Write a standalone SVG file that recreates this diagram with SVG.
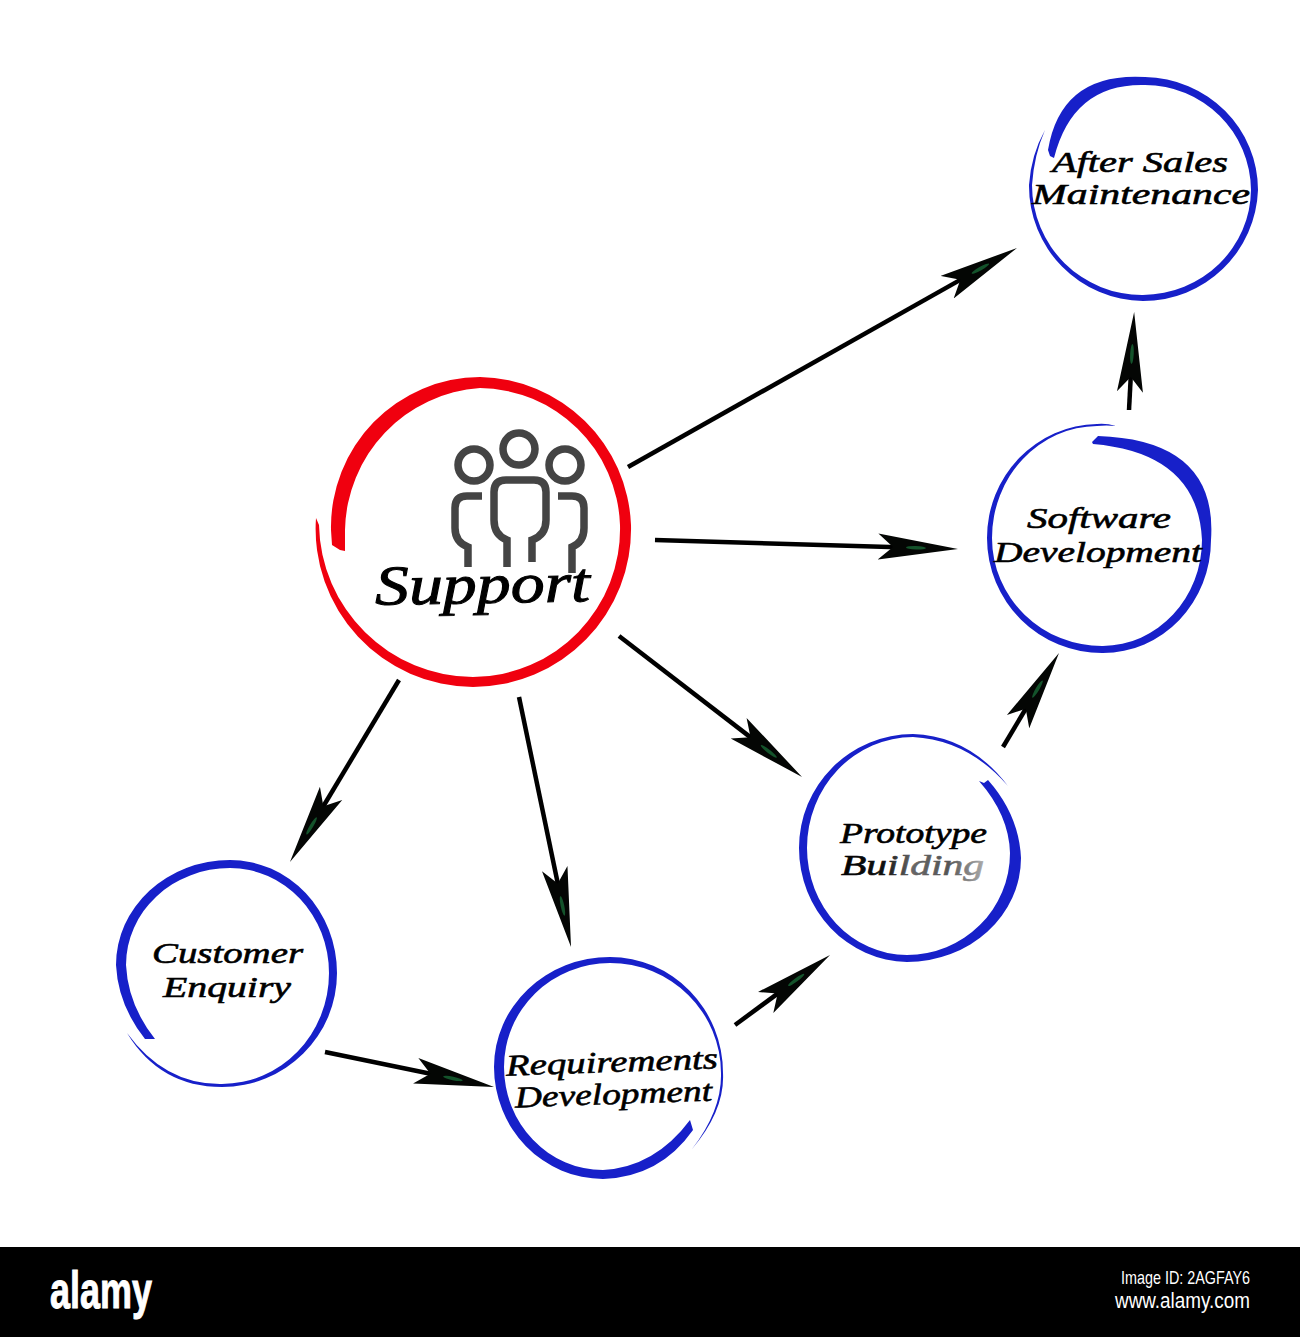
<svg xmlns="http://www.w3.org/2000/svg" width="1300" height="1337" viewBox="0 0 1300 1337">
<style>
.ring{fill:#1720c9}
.red{fill:#f0000f}
.label{font-family:"Liberation Serif","DejaVu Serif",serif;font-style:italic;font-size:30px;fill:#000;stroke:#000;stroke-width:.6}
.big{font-size:56px;stroke-width:1}
.arrow{fill:none;stroke:#000;stroke-width:4.5;marker-end:url(#head)}
.icon{fill:none;stroke:#444;stroke-width:7.5}
.foot{font-family:"Liberation Sans",Arial,sans-serif;fill:#fff}
</style>
<defs>
<marker id="head" markerUnits="userSpaceOnUse" markerWidth="80" markerHeight="28" refX="20" refY="14" orient="auto" viewBox="0 0 80 28">
<polygon points="0,1 80,14 0,27 15,14" fill="#040604"/>
<ellipse cx="38" cy="14" rx="10" ry="1.8" fill="#14532b"/>
</marker>
<linearGradient id="fade" gradientUnits="userSpaceOnUse" x1="841" y1="0" x2="984" y2="0">
<stop offset="0" stop-color="#000"/><stop offset="0.3" stop-color="#111"/><stop offset="0.5" stop-color="#666"/><stop offset="0.75" stop-color="#555"/><stop offset="1" stop-color="#aaa"/>
</linearGradient>
</defs>
<rect width="1300" height="1337" fill="#fff"/>

<g id="connectors">
<path class="arrow" d="M628,467L964.7,277.4"/>
<path class="arrow" d="M655,540L898,547.2"/>
<path class="arrow" d="M619,636L754.5,740.4"/>
<path class="arrow" d="M519,697L558.8,888.3"/>
<path class="arrow" d="M399,680L320.8,810.5"/>
<path class="arrow" d="M325,1052L435.3,1074.8"/>
<path class="arrow" d="M735,1025L781.7,990.6"/>
<path class="arrow" d="M1003,747L1028.3,704.5"/>
<path class="arrow" d="M1129,410L1131,372"/>
</g>

<g id="support">
<path class="red" d="M316,518A158,158 0 0 0 473,687A158,158 0 0 0 631,525A154,154 0 0 0 480,377A150,150 0 0 0 331,530L332,545L340,550L345,551L345,530A145,145 0 0 1 480,388A142,142 0 0 1 620,525A148,148 0 0 1 473,677A155,155 0 0 1 319,525Z"/>
<circle class="icon" cx="519" cy="449" r="16"/>
<circle class="icon" cx="474" cy="465" r="16"/>
<circle class="icon" cx="565" cy="465" r="16"/>
<path class="icon" d="M507,567V540Q494,535 494,520V492Q494,480 506,480H534Q546,480 546,492V520Q546,535 532,540V562"/>
<path class="icon" d="M482,496H467Q455,496 455,508V528Q455,542 468,547V567"/>
<path class="icon" d="M558,496H572Q584,496 584,508V528Q584,542 572,547V573"/>
<text class="label big" x="375" y="603" textLength="215" lengthAdjust="spacingAndGlyphs" transform="rotate(-1 482 590)">Support</text>
</g>

<g id="after-sales">
<path class="ring" d="M1045,130Q1031,155 1029,185A115,115 0 0 0 1143,301A115,115 0 0 0 1258,190A115,113 0 0 0 1145,77Q1061,72 1048,150L1050,156L1054,158Q1073,83 1145,85A106,106 0 0 1 1251,190A109,106 0 0 1 1143,295A110,110 0 0 1 1032,185Q1034,155 1045,130Z"/>
<text class="label" x="1052" y="172" textLength="176" lengthAdjust="spacingAndGlyphs">After Sales</text>
<text class="label" x="1032" y="204" textLength="218" lengthAdjust="spacingAndGlyphs">Maintenance</text>
</g>

<g id="software">
<path class="ring" d="M1116,426Q1106,423 1097,424A112,114 0 0 0 987,538A115,115 0 0 0 1103,653A108,113 0 0 0 1211,540Q1218,440 1098,436L1092,442L1093,444Q1198,453 1202,540A100,106 0 0 1 1103,646A110,108 0 0 1 992,538A106,112 0 0 1 1097,426Q1106,425 1116,426Z"/>
<text class="label" x="1027" y="528" textLength="144" lengthAdjust="spacingAndGlyphs">Software</text>
<text class="label" x="994" y="562" textLength="208" lengthAdjust="spacingAndGlyphs">Development</text>
</g>

<g id="prototype">
<path class="ring" d="M1008,786Q970,736 913,734A114,114 0 0 0 799,848A110,114 0 0 0 907,962A114,104 0 0 0 1021,858Q1019,815 988,780L984,783L979,781Q1009,815 1010,853A103,102 0 0 1 907,955A100,107 0 0 1 807,848A106,111 0 0 1 913,737Q968,740 1008,786Z"/>
<text class="label" x="840" y="843" textLength="147" lengthAdjust="spacingAndGlyphs">Prototype</text>
<text class="label" x="841" y="875" textLength="143" lengthAdjust="spacingAndGlyphs" style="fill:url(#fade);stroke:url(#fade)">Building</text>
</g>

<g id="customer">
<path class="ring" d="M127,1033Q160,1087 222,1087A115,114 0 0 0 337,973A107,113 0 0 0 230,860A114,105 0 0 0 116,965Q118,1005 145,1039L155,1039Q128,1005 126,965A104,97 0 0 1 230,868A99,105 0 0 1 329,973A107,111 0 0 1 222,1084Q165,1085 127,1033Z"/>
<text class="label" x="152" y="963" textLength="151" lengthAdjust="spacingAndGlyphs">Customer</text>
<text class="label" x="163" y="997" textLength="128" lengthAdjust="spacingAndGlyphs">Enquiry</text>
</g>

<g id="requirements">
<path class="ring" d="M692,1149Q725,1110 723,1073A113,116 0 0 0 610,957A116,110 0 0 0 494,1067A109,112 0 0 0 603,1179Q660,1177 693,1130L690,1120Q655,1167 603,1170A99,103 0 0 1 504,1067A106,104 0 0 1 610,963A111,110 0 0 1 721,1073Q722,1110 692,1149Z"/>
<text class="label" x="506" y="1072" textLength="212" lengthAdjust="spacingAndGlyphs" transform="rotate(-2 612 1065)">Requirements</text>
<text class="label" x="515" y="1104" textLength="197" lengthAdjust="spacingAndGlyphs" transform="rotate(-2 613 1095)">Development</text>
</g>

<g id="footer">
<rect x="0" y="1247" width="1300" height="90" fill="#000"/>
<text class="foot" x="50" y="1308" font-size="52" font-weight="700" stroke="#fff" stroke-width="1" textLength="102" lengthAdjust="spacingAndGlyphs">alamy</text>
<text class="foot" x="1121" y="1284" font-size="19" textLength="129" lengthAdjust="spacingAndGlyphs">Image ID: 2AGFAY6</text>
<text class="foot" x="1115" y="1308" font-size="22" textLength="135" lengthAdjust="spacingAndGlyphs">www.alamy.com</text>
</g>
</svg>
